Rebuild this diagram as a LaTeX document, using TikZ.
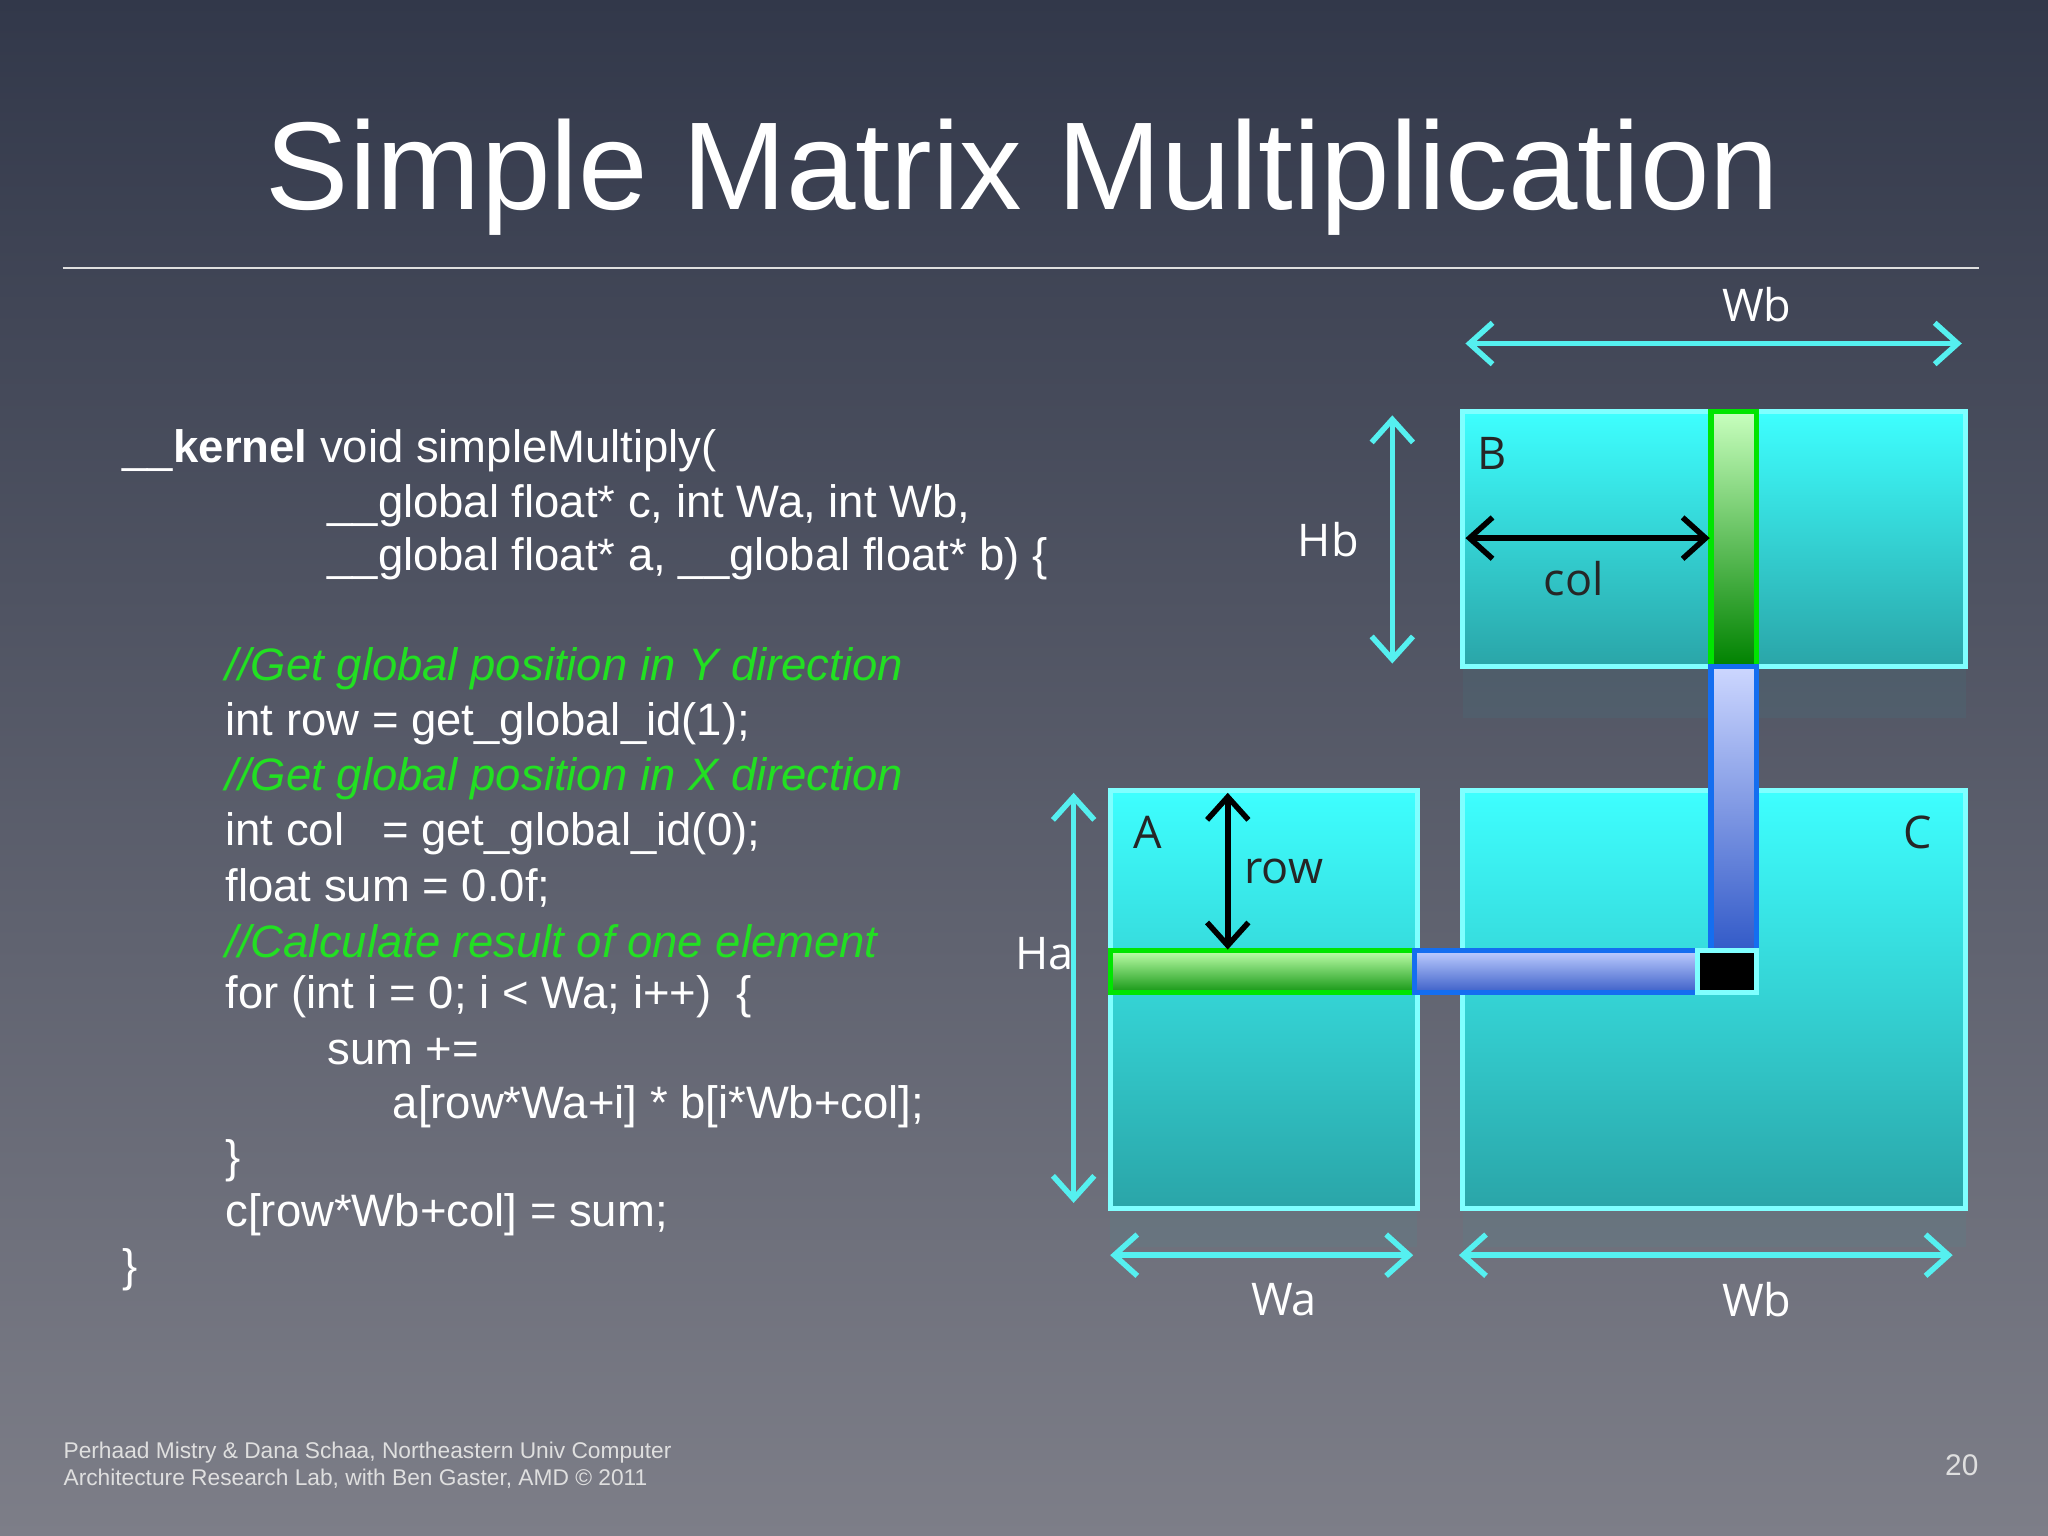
\documentclass[tikz,border=0pt]{standalone}
\usepackage{fontspec}
\setmainfont{Liberation Sans}
\newfontfamily\lab{Open Sans}
\usetikzlibrary{arrows.meta}
\definecolor{cyanA}{HTML}{3EFFFF}
\definecolor{cyanB}{HTML}{2AA5A8}
\definecolor{cyanE}{HTML}{7FFFFF}
\definecolor{arr}{HTML}{55F0F0}
\definecolor{cg}{HTML}{22E022}
\tikzset{
 mat/.style={draw=cyanE,line width=1.1pt,top color=cyanA,bottom color=cyanB},
 refl/.style={fill=cyanB,opacity=0.08},
 dim/.style={draw=arr,line width=1.2pt,{Straight Barb[length=5pt,width=9pt]}-{Straight Barb[length=5pt,width=9pt]}},
 blk/.style={draw=black,line width=1.2pt,{Straight Barb[length=5pt,width=9pt]}-{Straight Barb[length=5pt,width=9pt]}},
 lbl/.style={text=black!85,font=\lab\fontsize{9.8}{12}\selectfont},
 dlbl/.style={text=white,font=\lab\fontsize{9.8}{12}\selectfont},
 code/.style={anchor=west,text=white,font=\fontsize{9.9}{11}\selectfont,inner sep=0},
 cmt/.style={code,text=cg,font=\fontsize{9.9}{11}\selectfont\itshape},
}
\begin{document}
\begin{tikzpicture}[x=0.01cm,y=-0.01cm]
\useasboundingbox (0,0) rectangle (1568,1176);
\shade[top color={rgb,255:red,50;green,56;blue,74},middle color={rgb,255:red,85;green,90;blue,106},bottom color={rgb,255:red,125;green,126;blue,136}] (0,0) rectangle (1568,1176);
\node[text=white,font=\fontsize{27.2}{32}\selectfont] (title) at (783,136) {Simple Matrix Multiplication};
\draw[white!75!gray,line width=0.5pt] (48,205) -- (1515,205);
% code
\node[code] (c1) at (93,345) {\_\_\textbf{kernel} void simpleMultiply(};
\node[code] (c2) at (250,387) {\_\_global float* c, int Wa, int Wb,};
\node[code] (c3) at (250,428) {\_\_global float* a, \_\_global float* b) \{};
\node[cmt] (c4) at (172,512) {//Get global position in Y direction};
\node[code] (c5) at (172,554) {int row = get\_global\_id(1);};
\node[cmt] (c6) at (172,596) {//Get global position in X direction};
\node[code] (c7) at (172,638) {int col\ \ \ = get\_global\_id(0);};
\node[code] (c8) at (172,680) {float sum = 0.0f;};
\node[cmt] (c9) at (172,721) {//Calculate result of one element};
\node[code] (c10) at (172,763) {for (int i = 0; i < Wa; i++)\ \ \{};
\node[code] (c11) at (250,805) {sum +=};
\node[code] (c12) at (300,847) {a[row*Wa+i] * b[i*Wb+col];};
\node[code] (c13) at (172,889) {\}};
\node[code] (c14) at (172,930) {c[row*Wb+col] = sum;};
\node[code] (c15) at (93,972) {\}};
% reflections
\fill[refl] (1120,512) rectangle (1505,550);
\fill[refl] (850,928) rectangle (1085,955);
\fill[refl] (1120,928) rectangle (1505,955);
% matrices
\draw[mat] (1120,315) rectangle (1505,510);
\draw[mat] (850,605) rectangle (1085,925);
\draw[mat] (1120,605) rectangle (1505,925);
% strips
\shade[top color={rgb,255:red,200;green,255;blue,190},bottom color={rgb,255:red,0;green,130;blue,0},draw=green!90!black,line width=1.1pt] (1310,315) rectangle (1345,510);
\shade[top color={rgb,255:red,205;green,215;blue,255},bottom color={rgb,255:red,50;green,90;blue,200},draw={rgb,255:red,20;green,110;blue,240},line width=1.1pt] (1310,510) rectangle (1345,728);
\shade[top color={rgb,255:red,190;green,255;blue,170},bottom color={rgb,255:red,20;green,150;blue,20},draw=green!90!black,line width=1.1pt] (850,728) rectangle (1083,760);
\shade[top color={rgb,255:red,190;green,205;blue,255},bottom color={rgb,255:red,60;green,95;blue,200},draw={rgb,255:red,20;green,110;blue,240},line width=1.1pt] (1083,728) rectangle (1300,760);
\draw[fill=black,draw=cyanE,line width=1.1pt] (1300,728) rectangle (1345,760);
% dimension arrows
\coordinate (wbt1) at (1122,263); \coordinate (wbt2) at (1502,263);
\draw[dim] (wbt1) -- (wbt2);
\coordinate (hb1) at (1066,318); \coordinate (hb2) at (1066,508);
\draw[dim] (hb1) -- (hb2);
\coordinate (ha1) at (822,607); \coordinate (ha2) at (822,921);
\draw[dim] (ha1) -- (ha2);
\coordinate (wa1) at (850,961); \coordinate (wa2) at (1082,961);
\draw[dim] (wa1) -- (wa2);
\coordinate (wb1) at (1117,961); \coordinate (wb2) at (1495,961);
\draw[dim] (wb1) -- (wb2);
\coordinate (col1) at (1122,412); \coordinate (col2) at (1309,412);
\draw[blk] (col1) -- (col2);
\coordinate (row1) at (940,607); \coordinate (row2) at (940,727);
\draw[blk] (row1) -- (row2);
% labels
\node[dlbl] (lwbt) at (1345,233) {Wb};
\node[dlbl] (lhb) at (1017,413) {Hb};
\node[dlbl] (lha) at (800,730) {Ha};
\node[dlbl] (lwa) at (983,995) {Wa};
\node[dlbl] (lwb) at (1345,995) {Wb};
\node[lbl] (lB) at (1142,347) {B};
\node[lbl] (lA) at (879,637) {A};
\node[lbl] (lC) at (1468,637) {C};
\node[lbl] (lcol) at (1205,443) {col};
\node[lbl] (lrow) at (983,667) {row};
% footer
\node[anchor=north west,align=left,text=white!75!gray,font=\fontsize{4.95}{6}\selectfont,inner sep=0] (foot) at (48,1103) {Perhaad Mistry \& Dana Schaa, Northeastern Univ Computer\\Architecture Research Lab, with Ben Gaster, AMD \textcopyright{} 2011};
\node[text=white!75!gray,font=\fontsize{6.5}{8}\selectfont] (pg) at (1502,1122) {20};
\end{tikzpicture}
\end{document}
